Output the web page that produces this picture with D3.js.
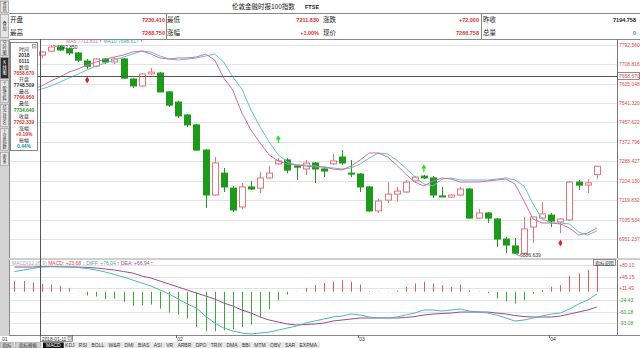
<!DOCTYPE html>
<html>
<head>
<meta charset="utf-8">
<script src="https://cdnjs.cloudflare.com/ajax/libs/d3/7.8.5/d3.min.js"></script>
<style>
body { margin: 0; background: #fff; }
svg { display: block; font-family: "Liberation Sans", Arial, sans-serif; }
.cjk { font-family: "Noto Sans CJK SC", sans-serif; }
</style>
</head>
<body>
<svg id="chart" width="640" height="348"></svg>
<script>
// trading days shown (2018)
const dates = ["01-08","01-09","01-10","01-11","01-12","01-15","01-16","01-17","01-18","01-19","01-22","01-23","01-24","01-25","01-26","01-29","01-30","01-31",
"02-01","02-02","02-05","02-06","02-07","02-08","02-09","02-12","02-13","02-14","02-15","02-16","02-19","02-20","02-21","02-22","02-23","02-26","02-27","02-28",
"03-01","03-02","03-05","03-06","03-07","03-08","03-09","03-12","03-13","03-14","03-15","03-16","03-19","03-20","03-21","03-22","03-23","03-26","03-27","03-28","03-29",
"04-03","04-04","04-05","04-06","04-09","04-10"];

const openP = [7724,7696,7731,7748.5,7766,7784,7775,7758,7723,7701,
 7732,7719,7732,7645,7615,7667,7671,7589,7545,7489,
 7446,7337,7142,7237,7172,7090,7177,7172,7216,7277,
 7294,7268,7255,7281,7255,7277,7307,7237,7233,7177,
 7073,7120,7146,7155,7203,7224,7216,7138,7133,7142,
 7168,7042,7064,7038,6951,6921,6890,7003,7042,7055,
 7025,7034,7198,7185,7230.41];
const highP = [7727,7738,7756,7767.0,7792.85,7788,7780,7762,7732,7736,
 7736,7740,7736,7649,7671,7693,7676,7593,7550,7493,
 7450,7341,7307,7259,7181,7194,7203,7242,7268,7303,
 7303,7272,7294,7285,7263,7320,7337,7294,7237,7181,
 7125,7198,7177,7207,7224,7229,7224,7177,7146,7177,
 7172,7081,7068,7042,6960,6956,7047,7047,7112,7064,
 7042,7203,7207,7211,7268.75];
const lowP = [7681,7690,7725,7734.6,7762,7766,7749,7719,7688,7697,
 7710,7710,7645,7606,7610,7662,7588,7524,7476,7437,
 7333,7086,7138,7155,7068,7081,7164,7151,7211,7272,
 7237,7207,7229,7194,7220,7272,7272,7220,7155,7068,
 7064,7107,7112,7151,7198,7211,7129,7133,7129,7138,
 7038,7038,7021,6917,6890,6886.639,6888,6934,7038,7003,
 6977,7029,7164,7151,7211.83];
const closeP = [7696,7731,7748,7762.3,7784,7771,7758,7727,7701,7732,
 7719,7732,7649,7615,7667,7675,7589,7532,7485,7446,
 7337,7142,7281,7177,7077,7177,7168,7216,7237,7290,
 7250,7263,7281,7255,7246,7290,7281,7233,7177,7073,
 7116,7146,7159,7198,7220,7216,7142,7135,7142,7168,
 7042,7064,7042,6951,6925,6890,6995,7047,7060,7029,
 7038,7198,7185,7194.76,7266.76];

const maShort = [7575.7,7588.7,7601.7,7614.7,7636.4,7653.8,7675.4,7688.5,7705.8,7718.8,
 7731.8,7740.5,7749.2,7762.2,7766.5,7753.5,7736.2,7731.8,7736.2,7736.2,
 7740.5,7753.5,7727.5,7649.4,7597.4,7497.4,7423.9,7367.5,7315.5,7289.5,
 7276.5,7272.2,7267.8,7263.5,7263.5,7254.8,7250.5,7267.8,7293.8,7324.2,
 7324.2,7306.8,7272.2,7233.1,7198.4,7181.1,7202.8,7215.8,7211.4,7198.4,
 7198.4,7198.4,7202.8,7207.1,7211.4,7189.7,7116.0,7038.0,7020.6,7020.6,
 7016.3,6999.0,6968.6,6977.3,6999.0];
const maLong = [7562.7,7575.7,7588.7,7601.7,7614.7,7632.1,7649.4,7666.8,7684.1,7701.5,
 7714.5,7727.5,7740.5,7753.5,7766.5,7762.2,7744.9,7731.8,7727.5,7731.8,
 7736.2,7744.9,7753.5,7718.8,7653.8,7601.7,7510.7,7436.9,7371.9,7315.5,
 7285.2,7272.2,7272.2,7267.8,7263.5,7259.1,7254.8,7259.1,7276.5,7302.5,
 7324.2,7319.8,7293.8,7259.1,7220.1,7189.7,7181.1,7211.4,7215.8,7207.1,
 7207.1,7207.1,7207.1,7211.4,7215.8,7207.1,7181.1,7103.0,7038.0,7020.6,
 7020.6,7016.3,6981.6,6968.6,6985.9];

const macdBar = [32,32,28,24,22,18,12,1,-11,-14,
 -22,-20,-30,-42,-40,-38,-50,-62,-68,-80,
 -105,-118,-118,-115,-112,-105,-98,-75,-52,-25,
 -8,1,12,20,26,30,35,30,22,2,
 1,-1,3,15,25,30,25,20,15,22,
 4,1,-4,-20,-28,-35,-25,-5,5,15,
 20,48,55,65,80];
const diffLine = [60.6,65.1,69.6,74.1,74.9,74.9,74.9,72.6,69.6,65.1,
 59.1,51.7,44.2,35.2,26.3,17.3,5.4,-6.6,-21.5,-36.4,
 -48.4,-72.3,-93.2,-108.1,-117.1,-123.0,-126.0,-123.0,-120.0,-114.1,
 -108.1,-102.1,-93.2,-87.2,-81.2,-75.2,-72.3,-66.3,-69.3,-75.2,
 -78.2,-78.2,-75.2,-69.3,-63.3,-54.3,-54.3,-57.3,-54.3,-51.4,
 -57.3,-60.3,-63.3,-69.3,-78.2,-87.2,-84.2,-78.2,-72.3,-66.3,
 -63.3,-51.4,-36.4,-24.5,-6.6];
const deaLine = [74.1,74.1,74.1,75.5,75.5,74.9,74.1,74.1,72.6,71.1,
 68.1,65.1,60.6,56.1,47.2,41.2,32.2,23.3,14.3,5.4,
 -3.6,-12.5,-21.5,-33.4,-42.4,-54.3,-63.3,-75.2,-84.2,-90.2,
 -96.1,-99.1,-97.6,-96.1,-93.2,-87.2,-84.2,-81.2,-78.2,-78.2,
 -78.2,-78.2,-78.2,-76.7,-73.8,-69.3,-66.3,-64.8,-63.3,-60.3,
 -60.3,-60.3,-60.3,-63.3,-66.3,-70.8,-73.8,-75.2,-75.2,-75.2,
 -72.3,-66.3,-60.3,-54.3,-45.4];

const priceTicks = [6951.237,7035.534,7119.832,7204.130,7288.427,7372.796,7457.622,7541.320,7625.048,7708.816,7792.560];
const macdTicks = [80.10,45.15,11.49,-24.43,-60.18,-93.08];

const redMarks = [{i: 8, v: 7640.8}, {i: 60, v: 6933.9}];
const greenMarks = [{i: 29, v: 7389.0}, {i: 45, v: 7263.5}];

const crossIdx = 3, crossVal = 7658.670;
const crossInfo = [["时间","#333"],["2018","#333"],["0111","#333"],["数值","#333"],["7658.670","#e03030"],
 ["开盘","#333"],["7748.509","#333"],["最高","#333"],["7766.950","#e03030"],["最低","#333"],["7734.640","#1a9a1a"],
 ["收盘","#333"],["7762.339","#e03030"],["涨幅","#333"],["+0.19%","#e03030"],["振幅","#333"],["0.44%","#1a9a9a"]];
const maLegend = [["MA5:7711.831", "#cc6fa6"], [" ↑  ", "#e02020"], ["MA10:7698.617", "#3aa8a8"], [" ↑", "#e02020"]];
const macdLegend = [["MACD(12,26,9)  ", "#aaa"], ["MACD: +23.68 ", "#e04848"], ["↓  ", "#3aa8a8"],
 ["DIFF: +76.04 ", "#3aa8a8"], ["↑  ", "#e02020"], ["DEA: +66.94 ", "#9a4a9a"], ["↑", "#e02020"]];

const quoteLabels = [["开盘","最低","涨跌","昨收"],["最高","涨幅","现价","总量"]];
const quoteValues = [["7230.410","7211.830","+72.000","7194.758"],["7268.750","+1.00%","7266.758","0"]];
const quoteColors = [["#e03030","#e03030","#e03030","#222"],["#e03030","#e03030","#e03030","#1a9a9a"]];

const sideTabs = ["资讯","叠加","分时图","K线图","个股资料","综合排名","上证指数","更多"];
const indicatorTabs = ["MACD","KDJ","RSI","BOLL","W&R","DMI","BIAS","ASI","VR","ARBR","DPO","TRIX","DMA","BBI","MTM","OBV","SAR","EXPMA"];

// ---------- layout
const svg = d3.select("#chart");
const L = 10, R = 617;
const mainTop = 39, mainBot = 258, macdBot = 335;
const upCol = "#e8747a", dnCol = "#1c9a1c";
const pinkLine = "#cc6fa6", tealLine = "#66c2c2";

const x = d3.scaleLinear().domain([0, dates.length - 1]).range([14.4, 596.8]);
const y = d3.scaleLinear().domain([6951.237, 7792.560]).range([239, 45]);
const ym = d3.scaleLinear().domain([-93.08, 80.10]).range([323, 265]);
const px = i => Math.round(x(i)) + 0.5;
const isNum = s => /^[\d+.%-]+$/.test(s);

svg.append("rect").attr("width", 640).attr("height", 348).attr("fill", "#fff");

// ---------- sidebar
svg.append("rect").attr("x", 0).attr("y", 0).attr("width", 9).attr("height", 336).attr("fill", "#d4d4d4");
const tabSpans = [[1,12],[14,37],[40,55],[57,78],[80,102],[104,126],[128,150],[152,165]];
sideTabs.forEach((t, k) => {
  const [y0, y1] = tabSpans[k];
  const on = t === "K线图";
  svg.append("rect").attr("x", 0.5).attr("y", y0 + 0.5).attr("width", 8).attr("height", y1 - y0)
    .attr("fill", on ? "#2b2b2b" : "#e6e6e6").attr("stroke", "#9a9a9a").attr("stroke-width", 0.6);
  const chars = Array.from(t);
  const step = Math.min(5.2, (y1 - y0 - 1) / chars.length);
  const start = y0 + (y1 - y0 - step * chars.length) / 2 + step * 0.82;
  chars.forEach((ch, j) => {
    svg.append("text").attr("class", "cjk").attr("x", 4.5).attr("y", start + j * step)
      .attr("text-anchor", "middle").attr("font-size", 4.2).attr("fill", on ? "#fff" : "#333").text(ch);
  });
});

// ---------- title & quote rows
svg.append("text").attr("class", "cjk").attr("x", 232).attr("y", 9).attr("font-size", 6.5).attr("fill", "#222").text("伦敦金融时报100指数");
svg.append("text").attr("x", 305).attr("y", 9).attr("font-size", 5.5).attr("font-weight", "bold").attr("fill", "#222").text("FTSE");

svg.append("line").attr("x1", 9).attr("x2", 640).attr("y1", 13.5).attr("y2", 13.5).attr("stroke", "#888");
svg.append("line").attr("x1", 9).attr("x2", 640).attr("y1", 39.5).attr("y2", 39.5).attr("stroke", "#888");
[166.5, 481.5].forEach(v => svg.append("line").attr("x1", v).attr("x2", v).attr("y1", 13.5).attr("y2", 39.5).attr("stroke", "#888"));

const labelX = [10, 167, 323, 483], valueX = [165, 319, 479, 636], rowY = [22, 35];
quoteLabels.forEach((row, r) => row.forEach((lab, c) => {
  svg.append("text").attr("class", "cjk").attr("x", labelX[c]).attr("y", rowY[r]).attr("font-size", 6.5).attr("fill", "#222").text(lab);
  svg.append("text").attr("x", valueX[c]).attr("y", rowY[r]).attr("text-anchor", "end").attr("font-size", 5.5)
    .attr("font-weight", "bold").attr("fill", quoteColors[r][c]).text(quoteValues[r][c]);
}));

// ---------- frames and grid
svg.append("line").attr("x1", 9.5).attr("x2", 9.5).attr("y1", mainTop).attr("y2", macdBot).attr("stroke", "#888");
svg.append("line").attr("x1", R + 0.5).attr("x2", R + 0.5).attr("y1", mainTop).attr("y2", macdBot).attr("stroke", "#777");

svg.append("g").selectAll("line").data(priceTicks).join("line")
  .attr("x1", L).attr("x2", R).attr("y1", d => Math.round(y(d)) + 0.5).attr("y2", d => Math.round(y(d)) + 0.5)
  .attr("stroke", "#e4e4e4");
svg.append("g").selectAll("text").data(priceTicks).join("text")
  .attr("x", R + 2).attr("y", d => y(d) + 2).attr("font-size", 5).attr("fill", "#e04848").text(d => d.toFixed(3));

svg.append("rect").attr("x", 9).attr("y", mainBot).attr("width", 631).attr("height", 2).attr("fill", "#cfcfcf");

svg.append("g").selectAll("line").data(macdTicks).join("line")
  .attr("x1", L).attr("x2", R).attr("y1", d => Math.round(ym(d)) + 0.5).attr("y2", d => Math.round(ym(d)) + 0.5)
  .attr("stroke", "#e4e4e4");
svg.append("g").selectAll("text").data(macdTicks).join("text")
  .attr("x", R + 2).attr("y", d => ym(d) + 2).attr("font-size", 5)
  .attr("fill", d => d > 0 ? "#e04848" : "#2a9a2a").text(d => (d > 0 ? "+" : "") + d.toFixed(2));
svg.append("line").attr("x1", 9).attr("x2", 640).attr("y1", macdBot + 0.5).attr("y2", macdBot + 0.5).attr("stroke", "#888");

// ---------- candles
const candles = dates.map((d, i) => ({i, o: openP[i], h: highP[i], l: lowP[i], c: closeP[i]}));
const cg = svg.append("g");
cg.selectAll("line").data(candles).join("line")
  .attr("x1", d => px(d.i)).attr("x2", d => px(d.i))
  .attr("y1", d => y(d.h)).attr("y2", d => y(d.l))
  .attr("stroke", d => d.c >= d.o ? upCol : dnCol);
cg.selectAll("rect").data(candles).join("rect")
  .attr("x", d => px(d.i) - 3).attr("width", 6)
  .attr("y", d => y(Math.max(d.o, d.c)))
  .attr("height", d => Math.max(1, Math.abs(y(d.o) - y(d.c))))
  .attr("fill", d => d.c >= d.o ? "#fff" : dnCol)
  .attr("stroke", d => d.c >= d.o ? upCol : dnCol);

// ---------- moving averages
const lineMain = d3.line().x((d, i) => x(i)).y(d => y(d));
svg.append("path").attr("d", lineMain(maLong)).attr("fill", "none").attr("stroke", tealLine);
svg.append("path").attr("d", lineMain(maShort)).attr("fill", "none").attr("stroke", pinkLine);

// ---------- signal marks
svg.append("g").selectAll("path").data(redMarks).join("path")
  .attr("transform", d => `translate(${x(d.i)},${y(d.v)})`)
  .attr("d", d3.symbol(d3.symbolDiamond).size(14)).attr("fill", "#e02020");
const gm = svg.append("g").selectAll("g").data(greenMarks).join("g")
  .attr("transform", d => `translate(${x(d.i)},${y(d.v)})`);
gm.append("path").attr("d", d3.symbol(d3.symbolTriangle).size(10)).attr("fill", "#22dd22");
gm.append("line").attr("x1", 0).attr("x2", 0).attr("y1", 1).attr("y2", 5).attr("stroke", "#22dd22").attr("stroke-width", 1.2);

// ---------- high / low labels
const hi = d3.maxIndex(highP), lo = d3.minIndex(lowP);
svg.append("line").attr("x1", x(hi) + 2).attr("x2", x(hi) + 6).attr("y1", y(highP[hi])).attr("y2", y(highP[hi]) + 2).attr("stroke", "#333").attr("stroke-width", 0.6);
svg.append("text").attr("x", x(hi) + 6).attr("y", y(highP[hi]) + 4.5).attr("font-size", 5).attr("fill", "#333").text(highP[hi].toFixed(3));
svg.append("line").attr("x1", x(lo) + 1).attr("x2", x(lo) + 5).attr("y1", y(lowP[lo])).attr("y2", y(lowP[lo]) + 2).attr("stroke", "#333").attr("stroke-width", 0.6);
svg.append("text").attr("x", x(lo) + 5).attr("y", y(lowP[lo]) + 3).attr("font-size", 5).attr("fill", "#333").text(lowP[lo].toFixed(3));

// ---------- main legend
const leg = svg.append("text").attr("x", 66).attr("y", 43.2).attr("font-size", 5);
maLegend.forEach(([t, c]) => leg.append("tspan").attr("fill", c).text(t));

// ---------- MACD
const mg = svg.append("g");
mg.selectAll("line").data(macdBar).join("line")
  .attr("x1", (d, i) => px(i)).attr("x2", (d, i) => px(i))
  .attr("y1", ym(0)).attr("y2", d => ym(d))
  .attr("stroke", d => d >= 0 ? "#e8585e" : "#3cab3c");
const lineMacd = d3.line().x((d, i) => x(i)).y(d => ym(d));
svg.append("path").attr("d", lineMacd(deaLine)).attr("fill", "none").attr("stroke", "#9a4a9a");
svg.append("path").attr("d", lineMacd(diffLine)).attr("fill", "none").attr("stroke", "#4fb8b8");

const mleg = svg.append("text").attr("x", 12).attr("y", 265).attr("font-size", 5);
macdLegend.forEach(([t, c]) => mleg.append("tspan").attr("fill", c).text(t));

svg.append("rect").attr("x", 593.5).attr("y", 259.5).attr("width", 22).attr("height", 6).attr("fill", "#f4f4f4").attr("stroke", "#555").attr("stroke-width", 0.6);
svg.append("text").attr("class", "cjk").attr("x", 604.5).attr("y", 264.5).attr("text-anchor", "middle").attr("font-size", 4.6).attr("fill", "#333").text("指标说明");

// ---------- crosshair
svg.append("line").attr("x1", px(crossIdx) - 2).attr("x2", px(crossIdx) - 2).attr("y1", mainTop).attr("y2", macdBot).attr("stroke", "#555");
svg.append("line").attr("x1", L).attr("x2", R).attr("y1", Math.round(y(crossVal)) + 0.5).attr("y2", Math.round(y(crossVal)) + 0.5).attr("stroke", "#555");
svg.append("rect").attr("x", R + 0.5).attr("y", y(crossVal) - 3.5).attr("width", 22).attr("height", 7).attr("fill", "#fff").attr("stroke", "#444").attr("stroke-width", 0.6);
svg.append("text").attr("x", R + 2).attr("y", y(crossVal) + 2).attr("font-size", 5).attr("fill", "#e04848").text(crossVal.toFixed(3));

// info box
svg.append("rect").attr("x", 10.5).attr("y", 42.5).attr("width", 27).attr("height", 108).attr("fill", "#fff").attr("stroke", "#555").attr("stroke-width", 0.7);
svg.append("rect").attr("x", 32.5).attr("y", 44.5).attr("width", 3.5).attr("height", 3.5).attr("fill", "#fff").attr("stroke", "#666").attr("stroke-width", 0.5);
svg.append("text").attr("x", 34.2).attr("y", 47.6).attr("text-anchor", "middle").attr("font-size", 4).attr("fill", "#444").text("×");
svg.append("g").selectAll("text").data(crossInfo).join("text")
  .attr("class", d => isNum(d[0]) ? null : "cjk")
  .attr("x", 24).attr("y", (d, k) => 50.5 + k * 6.1).attr("text-anchor", "middle")
  .attr("font-size", 4.9)
  .attr("font-weight", d => isNum(d[0]) ? "bold" : null)
  .attr("fill", d => d[1]).text(d => d[0]);

// ---------- x axis
const monthStarts = dates.map((d, i) => ({i, m: d.slice(0, 2)})).filter((d, i, a) => i === 0 || a[i - 1].m !== d.m);
svg.append("g").selectAll("text").data(monthStarts).join("text")
  .attr("x", d => d.i === 0 ? 2 : x(d.i) - 1).attr("y", 341).attr("font-size", 5).attr("fill", "#333").text(d => d.m);
svg.append("g").selectAll("line").data(monthStarts.slice(1)).join("line")
  .attr("x1", d => px(d.i) - 2).attr("x2", d => px(d.i) - 2).attr("y1", macdBot).attr("y2", macdBot + 3).attr("stroke", "#666");
svg.append("rect").attr("x", 40.5).attr("y", 335.5).attr("width", 32).attr("height", 6).attr("fill", "#fff").attr("stroke", "#444").attr("stroke-width", 0.6);
svg.append("text").attr("x", 42).attr("y", 340.5).attr("font-size", 4.8).attr("fill", "#333").text("2018-" + dates[crossIdx]);
svg.append("rect").attr("x", 68).attr("y", 336.5).attr("width", 3.5).attr("height", 3.5).attr("fill", "#ddd").attr("stroke", "#555").attr("stroke-width", 0.4);

// ---------- indicator toolbar
svg.append("rect").attr("x", 0).attr("y", 342).attr("width", 320).attr("height", 6).attr("fill", "#e8e8e8");
svg.append("rect").attr("x", 0.5).attr("y", 342.5).attr("width", 13).attr("height", 5.5).attr("fill", "#cfcfcf").attr("stroke", "#999").attr("stroke-width", 0.5);
svg.append("text").attr("class", "cjk").attr("x", 7).attr("y", 347).attr("text-anchor", "middle").attr("font-size", 4.5).attr("fill", "#333").text("指标");
svg.append("rect").attr("x", 15.5).attr("y", 342.5).attr("width", 25).attr("height", 5.5).attr("fill", "#cfcfcf").attr("stroke", "#999").attr("stroke-width", 0.5);
svg.append("text").attr("class", "cjk").attr("x", 28).attr("y", 347).attr("text-anchor", "middle").attr("font-size", 4.5).attr("fill", "#333").text("指标模板");

const tg = svg.append("g");
const activeBox = tg.append("rect").attr("y", 342.5).attr("height", 5.5).attr("fill", "#111");
const tabs = tg.selectAll("text").data(indicatorTabs).join("text")
  .attr("y", 347).attr("font-size", 5).attr("fill", d => d === "MACD" ? "#fff" : "#333").text(d => d);
const lens = tabs.nodes().map(n => n.getComputedTextLength());
const span0 = 46, span1 = 317;
const gap = (span1 - span0 - d3.sum(lens)) / (lens.length - 1);
let cx = span0;
const starts = lens.map(w => { const s = cx; cx += w + gap; return s; });
tabs.attr("x", (d, k) => starts[k]);
activeBox.attr("x", starts[0] - 3).attr("width", lens[0] + 6);
</script>
</body>
</html>
